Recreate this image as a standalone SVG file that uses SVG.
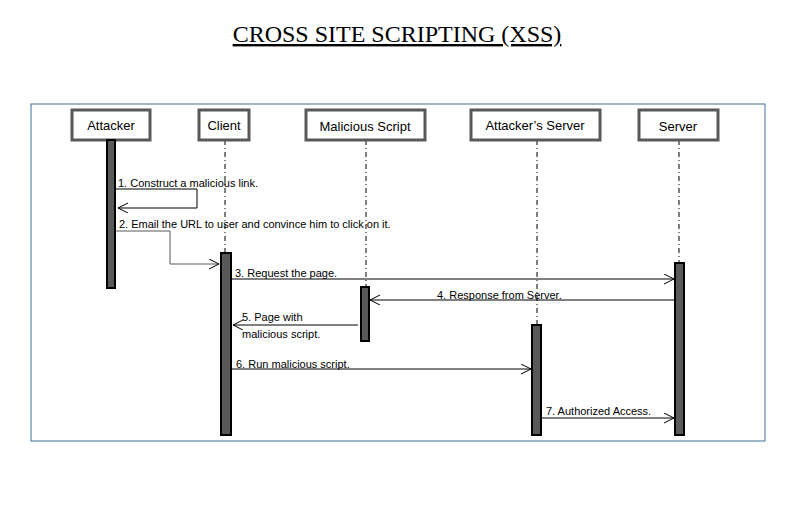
<svg xmlns="http://www.w3.org/2000/svg" width="795" height="505" viewBox="0 0 795 505">
<defs>
<marker id="ah" markerWidth="12" markerHeight="12" refX="10" refY="5" orient="auto" markerUnits="userSpaceOnUse"><path d="M0,0 L10,5 L0,10" fill="none" stroke="#000" stroke-width="1"/></marker>
</defs>
<style>
.box{fill:#fff;stroke:#595959;stroke-width:3}
.lbl{font-family:"Liberation Sans",Arial,sans-serif;font-size:13px;fill:#000;text-anchor:middle}
.life{stroke:#000;stroke-width:1;stroke-dasharray:5,3,1,3}
.act{fill:#595959;stroke:#000;stroke-width:2}
.msg{fill:none;stroke:#000;stroke-width:1;marker-end:url(#ah)}
.m2{fill:none;stroke:#595959;stroke-width:1;marker-end:url(#ah)}
.t{font-family:"Liberation Sans",Arial,sans-serif;font-size:11px;fill:#000}
</style>
<rect width="795" height="505" fill="#fff"/>
<text x="397" y="42" text-anchor="middle" font-family="Liberation Serif,serif" font-size="24" text-decoration="underline">CROSS SITE SCRIPTING (XSS)</text>
<rect x="31" y="104" width="734" height="337" fill="none" stroke="#41719c" stroke-width="1"/>
<g id="lifelines">
<line class="life" x1="225" y1="140" x2="225" y2="253"/>
<line class="life" x1="366" y1="140" x2="366" y2="287"/>
<line class="life" x1="537" y1="140" x2="537" y2="325"/>
<line class="life" x1="679" y1="140" x2="679" y2="263"/>
</g>
<g id="attacker"><rect class="box" x="72" y="110" width="78" height="30"/><text class="lbl" x="111" y="130">Attacker</text><rect class="act" x="107" y="140" width="8" height="148"/></g>
<g id="client"><rect class="box" x="199" y="110" width="50" height="30"/><text class="lbl" x="224" y="130">Client</text><rect class="act" x="221" y="253" width="10" height="182"/></g>
<g id="malicious"><rect class="box" x="306" y="110" width="119" height="30"/><text class="lbl" x="365" y="131">Malicious Script</text><rect class="act" x="361" y="287" width="8" height="54"/></g>
<g id="attserver"><rect class="box" x="471" y="110" width="129" height="30"/><text class="lbl" x="535" y="130">Attacker’s Server</text><rect class="act" x="532" y="325" width="9" height="110"/></g>
<g id="server"><rect class="box" x="639" y="110" width="79" height="30"/><text class="lbl" x="678" y="131">Server</text><rect class="act" x="675" y="263" width="9" height="172"/></g>
<g id="connectors">
<path class="msg" d="M116,189 H197 V208 H118"/>
<path class="m2" d="M116,231 H170 V264 H219"/>
<path class="msg" d="M231,279 H674"/>
<path class="msg" d="M675,300 H370"/>
<path class="msg" d="M358,325 H233"/>
<path class="msg" d="M231,369 H531"/>
<path class="msg" d="M542,418 H674"/>
</g>
<g id="labels">
<text class="t" x="118" y="187">1. Construct a malicious link.</text>
<text class="t" x="119" y="228">2. Email the URL to user and convince him to click on it.</text>
<text class="t" x="235" y="277">3. Request the page.</text>
<text class="t" x="437" y="299">4. Response from Server.</text>
<text class="t" x="242" y="321">5. Page with</text>
<text class="t" x="242" y="338">malicious script.</text>
<text class="t" x="236" y="368">6. Run malicious script.</text>
<text class="t" x="546" y="415">7. Authorized Access.</text>
</g>
</svg>
